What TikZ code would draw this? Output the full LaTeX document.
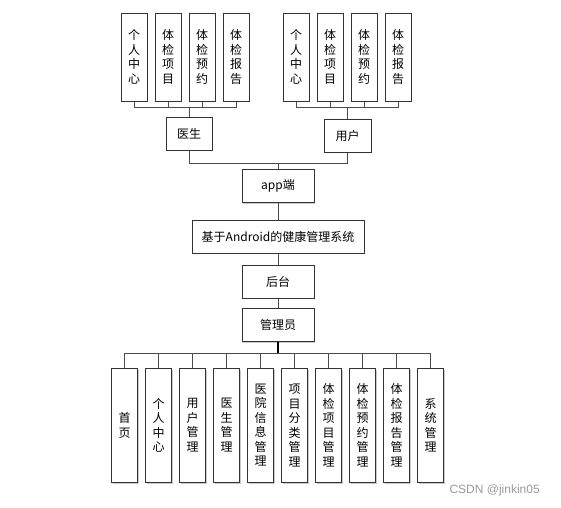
\documentclass[tikz,border=0pt]{standalone}
\usepackage{fontspec}
\setmainfont{Noto Sans CJK SC}
\newfontfamily\wmfont{Liberation Sans}
\usetikzlibrary{shadows}
\begin{document}
\begin{tikzpicture}[x=1pt,y=-1pt, line join=miter,
    box/.style={draw=black!80, line width=1pt, fill=white, inner sep=0pt,
        font=\fontsize{12}{14.5}\selectfont, align=center,
        drop shadow={shadow xshift=1.2pt, shadow yshift=-1.2pt, fill=black!35, opacity=0.6}},
    tall/.style={box, minimum width=26pt, minimum height=88pt},
    taller/.style={box, minimum width=26pt, minimum height=114pt},
    wide/.style={box, minimum width=72pt, minimum height=33pt},
    link/.style={draw=black!70, line width=1pt}]
    \useasboundingbox (0,0) rectangle (561,507);
    % top: doctor side and user side
    \foreach \t [count=\i] in {个\\人\\中\\心, 体\\检\\项\\目, 体\\检\\预\\约, 体\\检\\报\\告}
        {\node[tall] (d\i) at (100+34*\i,57) {\t};
         \node[tall] (u\i) at (262+34*\i,57) {\t};}
    \node[box, minimum width=46pt, minimum height=33pt] (ys) at (189,133.5) {医生};
    \node[box, minimum width=47pt, minimum height=33pt] (yh) at (347.5,135.5) {用户};
    \coordinate (b1) at (189,107);
    \coordinate (b2) at (347.5,107);
    \foreach \i in {1,...,4} {\draw[link] (d\i.south) |- (b1);
                              \draw[link] (u\i.south) |- (b2);}
    \draw[link] (b1) -- (ys.north);
    \draw[link, line width=1.8pt] (b2) -- (yh.north);
    % middle column
    \node[wide] (app) at (278,185.8) {app端};
    \node[box, minimum width=172pt, minimum height=33pt] (sys) at (278,236.7) {基于Android的健康管理系统};
    \node[wide] (ht) at (278,281.5) {后台};
    \node[wide] (gly) at (278,324.8) {管理员};
    \coordinate (b3) at (278,163);
    \draw[link] (ys.south) |- (b3) -- (app.north);
    \draw[link] (yh.south) |- (b3);
    \draw[link] (app) -- (sys);
    \draw[link] (sys) -- (ht);
    \draw[link] (ht) -- (gly);
    % bottom: admin modules
    \coordinate (b4) at (278,353.3);
    \draw[line width=2pt] (gly.south) -- (b4);
    \foreach \t [count=\i] in {首\\页, 个\\人\\中\\心, 用\\户\\管\\理, 医\\生\\管\\理,
            医\\院\\信\\息\\管\\理, 项\\目\\分\\类\\管\\理, 体\\检\\项\\目\\管\\理,
            体\\检\\预\\约\\管\\理, 体\\检\\报\\告\\管\\理, 系\\统\\管\\理}
        {\node[taller] (m\i) at (90.7+34*\i,425.3) {\t};
         \draw[link] (m\i.north) |- (b4);}
    \node[font=\wmfont\fontsize{12}{14}\selectfont, text=black!40, anchor=west] (wm) at (446,490.5) {CSDN @jinkin05};
\end{tikzpicture}
\end{document}
